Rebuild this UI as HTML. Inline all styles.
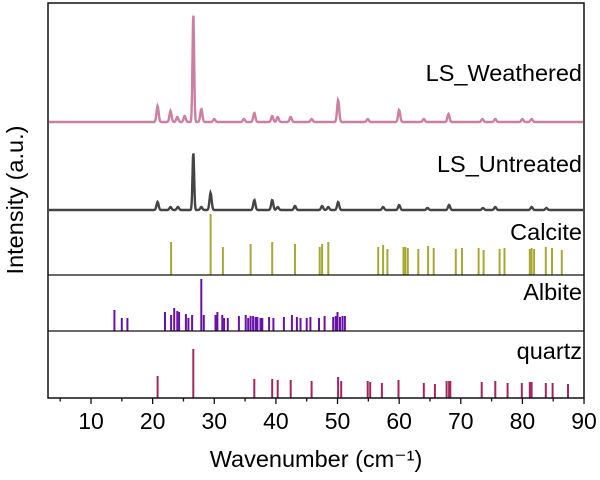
<!DOCTYPE html>
<html><head><meta charset="utf-8"><style>
html,body{margin:0;padding:0;background:#fff}
svg text{font-family:"Liberation Sans",sans-serif;fill:#000}
</style></head><body>
<svg id="c" width="600" height="475" viewBox="0 0 600 475" xmlns="http://www.w3.org/2000/svg"></svg>
<script>
const xTicks=[10,20,30,40,50,60,70,80,90];
const xMinor=[5,15,25,35,45,55,65,75,85];
const weatheredPos=[20.8,22.9,24.0,25.2,26.6,27.9,30.0,34.8,36.5,39.4,40.3,42.4,45.8,50.1,54.9,60.0,64.0,68.0,73.5,75.6,80.0,81.5];
const weatheredH=[16,11,5,6,109,13,3,3,9,6,5,5,3,22,3,12,3,8,3,3,3,3];
const untreatedPos=[20.8,22.9,24.1,26.6,27.9,29.4,36.5,39.4,40.3,43.1,47.5,48.5,50.1,57.4,60.0,64.6,68.1,73.6,75.6,81.5,83.9];
const untreatedH=[8,3,3,58,3,17,10,10,3,4,4,3,8,3,5,2,5,2,3,3,2];
const calcitePos=[23.0,29.4,31.4,35.9,39.4,43.1,47.1,47.5,48.5,56.6,57.4,58.1,60.7,61.0,61.4,63.1,64.7,65.6,69.2,70.2,72.9,73.7,76.3,77.1,81.2,81.5,81.9,83.8,84.8,86.4];
const calciteH=[33,61,28,31,33,31,28,31,33,28,30,26,28,28,27,26,29,27,26,27,27,25,26,27,26,27,26,28,27,25];
const albitePos=[13.8,15.0,15.9,22.0,23.0,23.5,24.0,24.3,25.4,25.8,26.4,27.9,28.3,30.2,30.5,31.3,31.6,32.2,34.0,35.1,35.5,35.9,36.3,36.7,37.0,37.5,37.8,38.9,39.6,41.3,42.6,43.4,44.0,45.0,45.6,47.0,47.9,49.3,49.7,50.0,50.4,50.8,51.2];
const albiteH=[21,13,13,19,16,23,20,19,17,13,16,52,16,16,19,16,13,13,15,16,13,15,15,14,14,13,13,14,13,14,16,14,13,13,14,13,15,14,15,19,14,15,15];
const quartzPos=[20.8,26.6,36.5,39.4,40.3,42.4,45.8,50.1,50.6,54.9,55.3,57.2,59.9,64.0,65.8,67.7,68.1,68.3,73.4,75.6,77.6,79.9,81.2,81.5,83.8,84.9,87.4];
const quartzH=[22,49,19,19,18,18,17,21,17,17,16,15,18,15,14,17,17,17,16,17,15,15,16,16,15,15,14];

const svg=document.getElementById('c');
const NS='http://www.w3.org/2000/svg';
const L=48,R=584,T=3,B=398;
const xScale=v=>29.4+v*6.1625;
function mk(tag,attrs,parent){const e=document.createElementNS(NS,tag);for(const k in attrs)e.setAttribute(k,attrs[k]);(parent||svg).appendChild(e);return e;}

function trace(pos,h,base,color,name){
  let d='';
  for(let px=L+1;px<=R-1;px+=0.5){
    const v=(px-29.4)/6.1625;let y=0;
    for(let i=0;i<pos.length;i++){const w=pos[i]===26.6?0.13:0.17;y+=h[i]*Math.exp(-Math.pow((v-pos[i])/w,2)/2);}
    d+=(d?'L':'M')+px.toFixed(1)+','+(base-y).toFixed(1);
  }
  const p=mk('path',{d:d,fill:'none',stroke:color,'stroke-width':2.4});
  
  
}
function sticks(pos,h,base,color,name){
  const g=mk('g',{});
  
  
  for(let i=0;i<pos.length;i++){
    const x=xScale(pos[i]);
    const r=mk('rect',{x:(x-1).toFixed(1),y:base-h[i],width:2,height:h[i],fill:color},g);
    
    
  }
}
trace(weatheredPos,weatheredH,122,'#cc7fa2','weathered-trace');
trace(untreatedPos,untreatedH,210,'#444','untreated-trace');
sticks(calcitePos,calciteH,275,'#a8a837','calcite-sticks');
sticks(albitePos,albiteH,331,'#6a12a8','albite-sticks');
sticks(quartzPos,quartzH,398,'#a3265f','quartz-sticks');

[275,331].forEach((y,i)=>{const l=mk('line',{x1:L,x2:R,y1:y,y2:y,stroke:'#111','stroke-width':1.3});
});
const f=mk('rect',{x:L,y:T,width:R-L,height:B-T,fill:'none',stroke:'#111','stroke-width':1.5});

xTicks.forEach(v=>{const x=xScale(v);
  const t=mk('line',{x1:x,x2:x,y1:B,y2:B+6,stroke:'#111','stroke-width':1.3});
  
  const tx=mk('text',{x:x,y:429,'text-anchor':'middle','font-size':23});tx.textContent=v;
  });
xMinor.forEach(v=>{const x=xScale(v);
  const t=mk('line',{x1:x,x2:x,y1:B,y2:B+3.5,stroke:'#111','stroke-width':1.3});
  });
const labels=[['LS_Weathered',81,'weathered-label'],['LS_Untreated',172,'untreated-label'],['Calcite',240,'calcite-label'],['Albite',300,'albite-label'],['quartz',359,'quartz-label']];
labels.forEach(a=>{const t=mk('text',{x:582,y:a[1],'text-anchor':'end','font-size':23.5});t.textContent=a[0];
  });
const xt=mk('text',{x:316,y:467,'text-anchor':'middle','font-size':23.5});xt.textContent='Wavenumber (cm\u207B\u00B9)';

const yt=mk('text',{x:0,y:0,'text-anchor':'middle','font-size':23.5,transform:'translate(23,200) rotate(-90)'});yt.textContent='Intensity (a.u.)';

</script>
</body></html>
